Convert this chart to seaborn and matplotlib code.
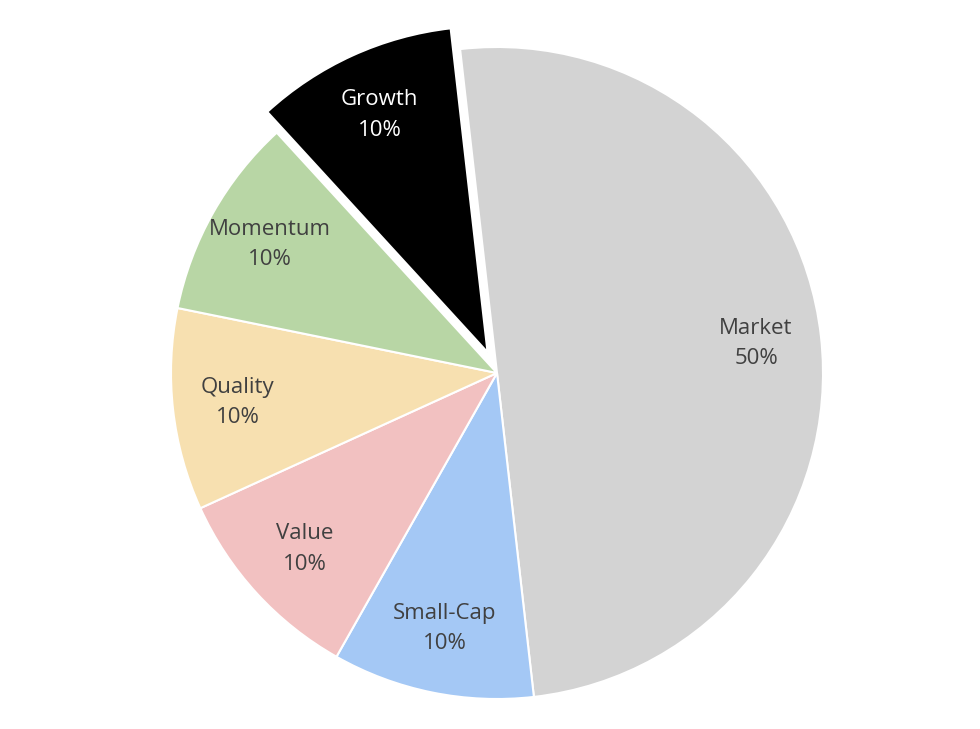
import numpy as np
import seaborn as sns
import matplotlib.pyplot as plt

categories = ['Market', 'Small-Cap', 'Value', 'Quality', 'Momentum', 'Growth']
shares = [50, 10, 10, 10, 10, 10]
colors = ['#d3d3d3', '#a4c8f5', '#f2c1c1', '#f7e0b0', '#b8d6a5', '#000000']
explode = [0, 0, 0, 0, 0, 0.07]

sns.set_theme(style='white')
plt.rcParams['font.family'] = ['Open Sans', 'DejaVu Sans']

fig = plt.figure(figsize=(9.8, 7.29), dpi=100)
# center at (497, 373) px, radius 326 px; limits +-1.15 leave room for the exploded slice
half = 326 * 1.15
ax = fig.add_axes([(497 - half) / 980, (729 - 373 - half) / 729, 2 * half / 980, 2 * half / 729])

labels = ["{}\n{}%".format(c, s) for c, s in zip(categories, shares)]
wedges, texts = ax.pie(shares, labels=labels, colors=sns.color_palette(colors),
                       explode=explode, startangle=96.5, counterclock=False,
                       labeldistance=0.8,
                       wedgeprops={'edgecolor': 'white', 'linewidth': 1.5},
                       textprops={'fontsize': 16, 'color': '#404040',
                                  'ha': 'center', 'va': 'center', 'linespacing': 1.6})
texts[-1].set_color('white')

ax.set_xlim(-1.15, 1.15)
ax.set_ylim(-1.15, 1.15)
ax.axis('off')

plt.savefig('out.png', dpi=100)
